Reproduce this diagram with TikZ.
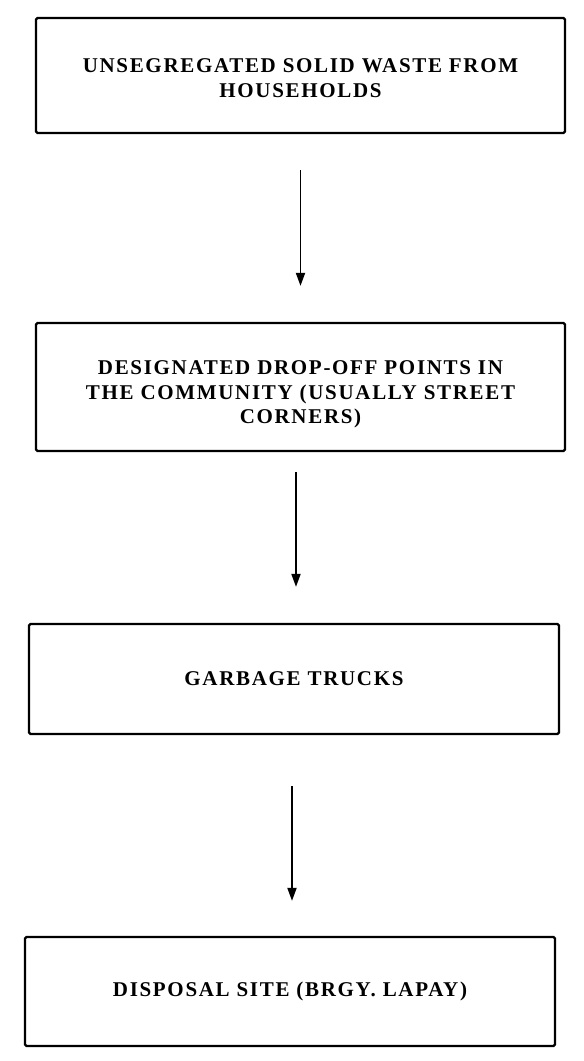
\documentclass[tikz,border=0pt]{standalone}
\usepackage{fontspec}
\setmainfont{Liberation Serif}[LetterSpace=8]
\usetikzlibrary{arrows.meta}
\tikzset{
	,font = \bfseries\fontsize{21}{24.5}\selectfont
	,stepnode/.style  = {rectangle, draw=black, line width=2.2pt, rounded corners=1.5pt, align=center, fill=none, inner sep=0pt}
	,flowarrow/.style = {-{Triangle[width=9pt,length=13pt]}, line width=1.8pt, black}
}
\begin{document}
\begin{tikzpicture}[x=1pt, y=-1pt]
		\useasboundingbox (0,0) rectangle (584,1061);
		\node[stepnode, minimum width=529pt, minimum height=115pt] at (300.5, 75.5) (house) {\rule{0pt}{19pt}UNSEGREGATED SOLID WASTE FROM\\HOUSEHOLDS};
		\node[stepnode, minimum width=529pt, minimum height=128pt] at (300.5, 387.0) (drop) {\rule{0pt}{29pt}DESIGNATED DROP-OFF POINTS IN\\THE COMMUNITY (USUALLY STREET\\CORNERS)};
		\node[stepnode, minimum width=530pt, minimum height=110pt] at (294.0, 679.0) (truck) {GARBAGE TRUCKS};
		\node[stepnode, minimum width=530pt, minimum height=109pt] at (290.0, 991.5) (dump) {DISPOSAL SITE (BRGY. LAPAY)};
		\draw[flowarrow, shorten <=36pt, shorten >=36pt] (house) -- (drop);
		\draw[flowarrow, shorten <=20pt, shorten >=36pt] ([xshift=-4.5pt]drop.south) -- ([xshift=2pt]truck.north);
		\draw[flowarrow, shorten <=51pt, shorten >=35pt] ([xshift=-2pt]truck.south) -- ([xshift=2pt]dump.north);
	\end{tikzpicture}
\end{document}
